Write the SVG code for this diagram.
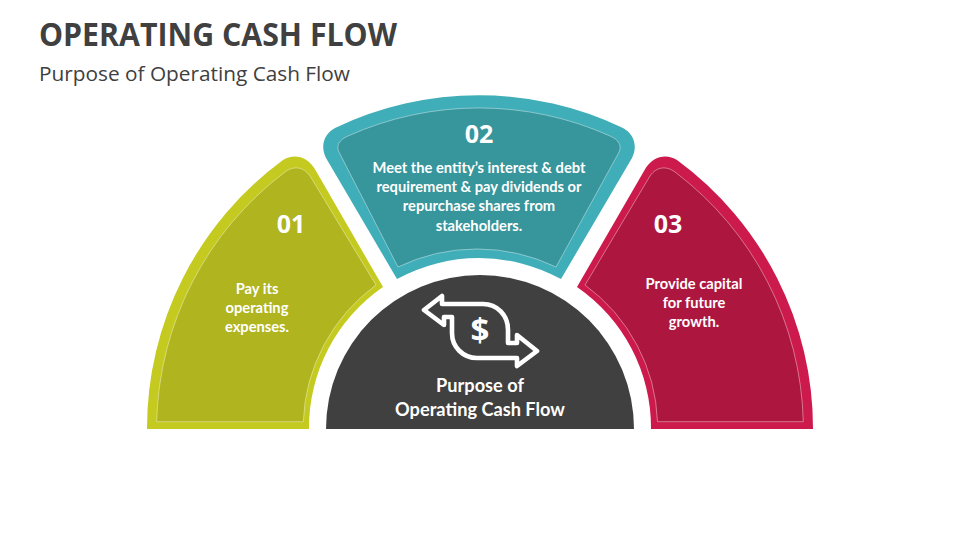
<svg xmlns="http://www.w3.org/2000/svg" width="960" height="540" viewBox="0 0 960 540">
<style>
.t{font-family:"Open Sans","Liberation Sans",sans-serif;fill:#404040}
.n{font-family:"Open Sans","Liberation Sans",sans-serif;font-weight:700;font-size:25px;fill:#fff;text-anchor:middle}
.b{font-family:Lato,"Liberation Sans",sans-serif;font-weight:700;font-size:14.7px;fill:#fff;text-anchor:middle}
.h{font-family:Lato,"Liberation Sans",sans-serif;font-weight:700;font-size:18.2px;fill:#fff;text-anchor:middle}
.i{stroke:#fff;stroke-opacity:.5;stroke-width:.8}
</style>
<rect width="960" height="540" fill="#fff"/>
<text class="t" x="39" y="46" font-size="33" font-weight="700" textLength="358" lengthAdjust="spacingAndGlyphs">OPERATING CASH FLOW</text>
<text class="t" x="39" y="81" font-size="20.8">Purpose of Operating Cash Flow</text>
<g id="node-01">
<path fill="#C4CA1F" d="M147,429A333,333 0 0 1 283,160C293,154 307,155 316,171L383,287A171,171 0 0 0 309,429Z"/>
<path class="i" fill="#AFB41F" d="M156.7,421.7A323,323 0 0 1 285,172C293,166 303,166 310,176L376,285A177,177 0 0 0 303.3,421.7Z"/>
<text class="n" x="291" y="233">01</text>
<text class="b" x="257" y="294">Pay its</text>
<text class="b" x="257" y="313">operating</text>
<text class="b" x="257" y="332">expenses.</text>
</g>
<g id="node-02">
<path fill="#40AEB8" d="M397,279L326,158C320,146 324,134 335,128A333,333 0 0 1 623,128C634,134 638,146 632,158L561,279A171,171 0 0 0 397,279Z"/>
<path class="i" fill="#37959C" d="M398,267L340,154C335,146 339,140 348,136A320,320 0 0 1 610,136C619,140 623,146 618,154L556,267A182,182 0 0 0 398,267Z"/>
<text class="n" x="479" y="143">02</text>
<text class="b" x="479" y="173">Meet the entity’s interest &amp; debt</text>
<text class="b" x="479" y="192">requirement &amp; pay dividends or</text>
<text class="b" x="479" y="211">repurchase shares from</text>
<text class="b" x="479" y="231">stakeholders.</text>
</g>
<g id="node-03">
<path fill="#CB1A4B" d="M813,429A333,333 0 0 0 677,160C667,154 653,155 644,171L577,287A171,171 0 0 1 651,429Z"/>
<path class="i" fill="#AD163F" d="M803.3,421.7A323,323 0 0 0 675,172C667,166 657,166 650,176L585,285A177,177 0 0 1 657.5,421.7Z"/>
<text class="n" x="668" y="233">03</text>
<text class="b" x="694" y="289">Provide capital</text>
<text class="b" x="694" y="308">for future</text>
<text class="b" x="694" y="327">growth.</text>
</g>
<g id="node-center">
<path fill="#404040" d="M326,429A154,154 0 0 1 634,429Z"/>
<path fill="none" stroke="#fff" stroke-width="4.6" stroke-linejoin="round" d="M424,310L442,296V304H483C497,304 508,315 508,330V343H517V335L537,351L517,366V358H477C463,358 452,347 452,333V317H444V325Z"/>
<text x="480" y="342" font-family="'Open Sans',sans-serif" font-weight="700" font-size="33" fill="#fff" text-anchor="middle">$</text>
<text class="h" x="480" y="392">Purpose of</text>
<text class="h" x="480" y="416">Operating Cash Flow</text>
</g>
<g id="connectors"></g>
</svg>
